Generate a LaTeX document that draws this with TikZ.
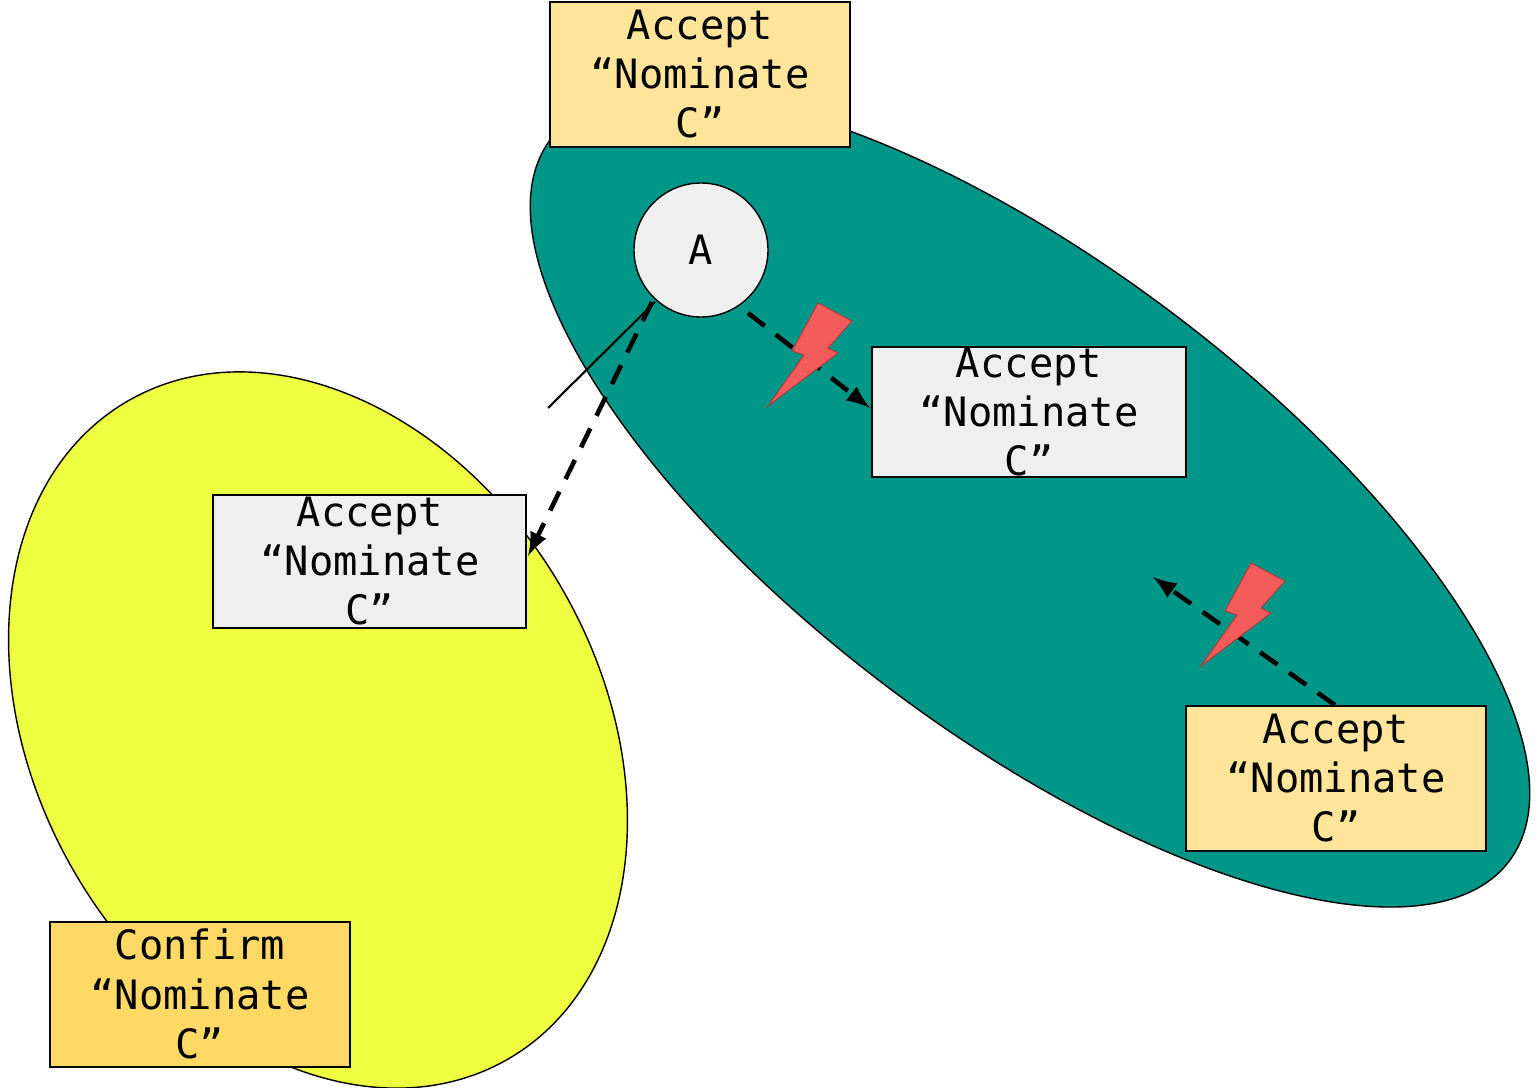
\documentclass[tikz,border=0pt]{standalone}
\usepackage{fontspec}
\setmonofont{DejaVu Sans Mono}
\begin{document}
\begin{tikzpicture}[x=0.01cm,y=-0.01cm,
  lbl/.style={font=\ttfamily\fontsize{11.5}{14}\selectfont,align=center},
  box/.style={draw=black,line width=0.5pt},
  darr/.style={line width=1.3pt,dash pattern=on 6pt off 4pt,-latex},
  bolt/.style={fill=boltred,draw=boltred!70!black,line width=0.3pt}]
\definecolor{teal1}{HTML}{009688}
\definecolor{yel}{HTML}{EEFF41}
\definecolor{org}{HTML}{FFE599}
\definecolor{org2}{HTML}{FFD966}
\definecolor{gr}{HTML}{EFEFEF}
\definecolor{boltred}{HTML}{F45B5B}
\useasboundingbox (0,0) rectangle (1536,1088);
\draw[fill=teal1] (1030,500) ellipse[x radius=600,y radius=235,rotate=-37];
\draw[fill=yel] (318,730) ellipse[x radius=380,y radius=282,rotate=-60];
\draw[box,fill=org] (550,2) rectangle (850,147);
\node[lbl] (t) at (700,74) {Accept\\“Nominate\\C”};
\draw[fill=gr] (701,250) circle (67);
\node[lbl] (A) at (701,250) {A};
\draw[box,fill=gr] (872,347) rectangle (1186,477);
\node[lbl] (m) at (1029,412) {Accept\\“Nominate\\C”};
\draw[box,fill=gr] (213,495) rectangle (526,628);
\node[lbl] (l) at (370,561) {Accept\\“Nominate\\C”};
\draw[box,fill=org] (1186,706) rectangle (1486,851);
\node[lbl] (r) at (1336,778) {Accept\\“Nominate\\C”};
\draw[box,fill=org2] (50,922) rectangle (350,1067);
\node[lbl] (c) at (200,994) {Confirm\\“Nominate\\C”};
\coordinate (s1) at (548,408);
\coordinate (s2) at (655,302);
\draw[line width=0.6pt] (s1) -- (s2);
\coordinate (d1) at (652,302);
\coordinate (d2) at (528,556);
\draw[darr] (d1) -- (d2);
\coordinate (e1) at (748,313);
\coordinate (e2) at (870,408);
\draw[darr] (e1) -- (e2);
\coordinate (f1) at (1335,705);
\coordinate (f2) at (1153,577);
\draw[darr] (f1) -- (f2);
\foreach \ox/\oy in {768/303,1201/563}{
\draw[bolt,shift={(\ox,\oy)}] (50,0) -- (84,18) -- (60,45) -- (70,50) -- (0,103) -- (36,52) -- (24,48) -- cycle;}
\end{tikzpicture}
\end{document}
